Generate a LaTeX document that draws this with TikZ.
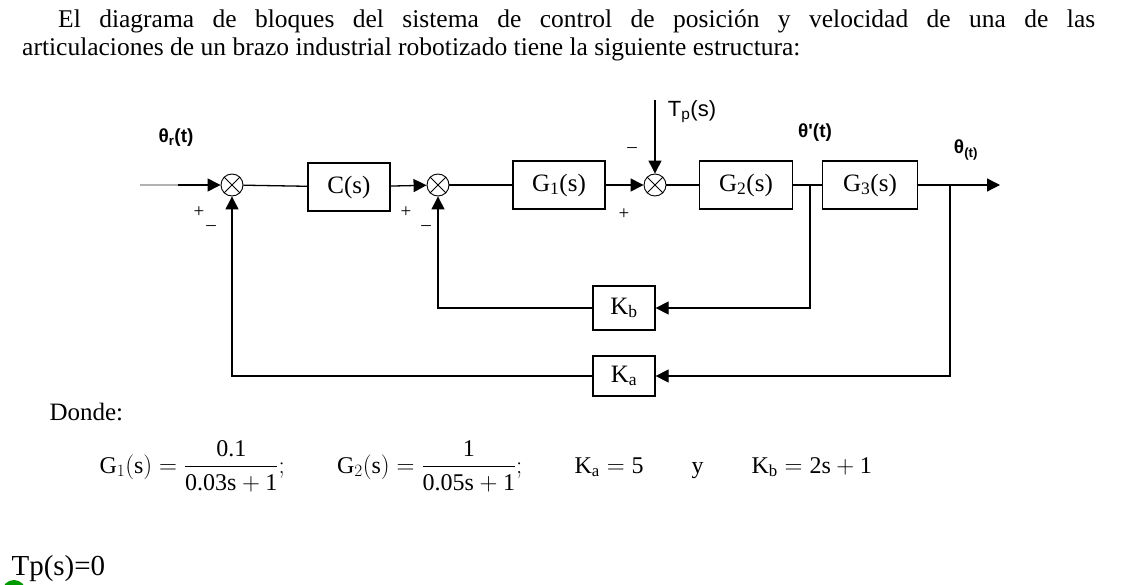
\documentclass[tikz,border=0pt]{standalone}
\usepackage{fontspec}
\usepackage{amsmath}
\setmainfont{Liberation Serif}
\newfontfamily\arialf{Liberation Sans}
\usetikzlibrary{arrows.meta,calc}
\begin{document}
\begin{tikzpicture}[x=1pt,y=-1pt,
  blk/.style={draw,line width=1.3pt,minimum width=#1,minimum height=48pt,inner sep=0pt,font=\fontsize{25}{28}\selectfont},
  blk/.default=85pt,
  sumn/.style={draw,circle,line width=0.9pt,minimum size=22pt,inner sep=0pt},
  ln/.style={line width=1.3pt},
  arr/.style={line width=1.3pt,-{Triangle[length=13pt,width=13pt]}},
  sg/.style={font=\fontsize{19}{20}\selectfont},
  lab/.style={font=\arialf\bfseries\fontsize{19}{22}\selectfont}]
\useasboundingbox (0,0) rectangle (1129,585);
\node[anchor=base west,inner sep=0pt] (t1) at (58,28) {\fontsize{25.5}{30}\selectfont\makebox[1037pt][s]{El diagrama de bloques del sistema de control de posición y velocidad de una de las}};
\node[anchor=base west,inner sep=0pt] (t2) at (22,56) {\fontsize{25.5}{30}\selectfont articulaciones de un brazo industrial robotizado tiene la siguiente estructura:};
% blocks
\node[sumn] (s1) at (232,185) {};
\node[blk=82pt] (C) at (349,187) {C(s)};
\node[sumn] (s2) at (438,185) {};
\node[blk=92pt] (G1) at (559,185) {G\textsubscript{1}(s)};
\node[sumn] (s3) at (655,185) {};
\node[blk=93pt] (G2) at (746,185) {G\textsubscript{2}(s)};
\node[blk=95pt] (G3) at (870,185) {G\textsubscript{3}(s)};
\node[blk=62pt,minimum height=44pt] (Kb) at (624,308) {K\textsubscript{b}};
\node[blk=62pt,minimum height=40pt] (Ka) at (624,376) {K\textsubscript{a}};
\foreach \s in {s1,s2,s3}{
  \draw[line width=0.9pt] (\s.north west)--(\s.south east) (\s.north east)--(\s.south west);}
\coordinate (in) at (140,185);
\coordinate (inb) at (178,185);
\coordinate (out) at (1000,185);
\coordinate (pb) at (810,185);
\coordinate (pa) at (950,185);
\coordinate (tp) at (655,100);
% forward path
\draw[ln,gray!60] (in) -- (inb);
\draw[arr] (inb) -- (s1);
\draw[ln] (s1) -- (C);
\draw[arr] (C) -- (s2);
\draw[ln] (s2) -- (G1);
\draw[arr] (G1) -- (s3);
\draw[ln] (s3) -- (G2);
\draw[ln] (G2) -- (G3);
\draw[arr] (G3) -- (out);
\draw[arr] (tp) -- (s3);
% feedback
\draw[arr] (pb) |- (Kb);
\draw[arr] (Kb) -| (s2);
\draw[arr] (pa) |- (Ka);
\draw[arr] (Ka) -| (s1);
% signs and labels
\node[sg] (p1) at (199,212) {+};
\node[sg] (m1) at (211,228) {--};
\node[sg] (p2) at (406,212) {+};
\node[sg] (m2) at (426,228) {--};
\node[sg] (p3) at (624,214) {+};
\node[sg] (m3) at (632,150) {--};
\node[lab] (lr) at (176,138) {θ\textsubscript{r}(t)};
\node[lab] (lp) at (815,133) {θ'(t)};
\node[lab] (lo) at (966,150) {θ\textsubscript{(t)}};
\node[font=\arialf\fontsize{22}{24}\selectfont] (ltp) at (692,112) {T\textsubscript{p}(s)};
% bottom
\node[anchor=base west,font=\fontsize{25}{28}\selectfont] (dn) at (46,420) {Donde:};
\node[anchor=west,font=\fontsize{24}{28}\selectfont] (eq) at (96,466)
 {$\text{G}_1(\text{s})=\dfrac{\text{0.1}}{\text{0.03s}+\text{1}};\qquad
   \text{G}_2(\text{s})=\dfrac{\text{1}}{\text{0.05s}+\text{1}};\qquad
   \text{K}_\text{a}=\text{5}\qquad \text{y}\qquad \text{K}_\text{b}=\text{2s}+\text{1}$};
\node[anchor=base west,font=\fontsize{29}{32}\selectfont] (tpz) at (8,575) {Tp(s)=0};
\fill[green!60!black] (14,592) circle (12);
\end{tikzpicture}
\end{document}
